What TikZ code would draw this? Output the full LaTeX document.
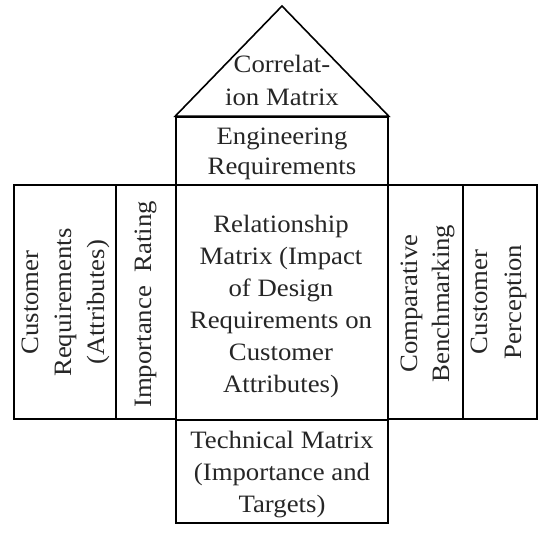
\documentclass[tikz,border=0pt]{standalone}
\usepackage{fontspec}
\setmainfont{Liberation Serif}[FakeStretch=1.07]
\usetikzlibrary{positioning}
\tikzset{box/.style={draw,line width=1.6pt,inner sep=0pt},
  lbl/.style={inner sep=0pt,align=center,text=black!85,font=\fontsize{25}{32}\selectfont}}
\newcommand*{\lsp}[1]{\fontsize{25}{#1}\selectfont}

\begin{document}
\begin{tikzpicture}[x=1pt,y=-1pt]
\useasboundingbox (0,0) rectangle (550,539);
% the house
\node[box,minimum width=212pt,minimum height=68pt] (eng) at (282,151) {};
\node[box,minimum width=212pt,minimum height=235pt] (rel) at (282,302.5) {};
\node[box,minimum width=212pt,minimum height=103pt] (tech) at (282,471.5) {};
\node[box,minimum width=102pt,minimum height=234pt] (cust) at (65,302) {};
\node[box,minimum width=60pt,minimum height=234pt] (imp) at (146,302) {};
\node[box,minimum width=75pt,minimum height=234pt] (comp) at (425.5,302) {};
\node[box,minimum width=74pt,minimum height=234pt] (perc) at (500,302) {};
\coordinate (apex) at (282,6);
\draw[line width=1.6pt,line join=miter] (eng.north west) -- (apex) -- (eng.north east) -- cycle;
% texts
\node[lbl,font=\lsp{33}] (corrt) at (282,80) {Correlat-\\ion Matrix};
\node[lbl,font=\lsp{30}] (engt) at (282,154) {Engineering\\Requirements};
\node[lbl] (relt) at (281,306)
  {Relationship\\Matrix (Impact\\of Design\\Requirements on\\Customer\\Attributes)};
\node[lbl] (techt) at (282,474.5) {Technical Matrix\\(Importance and\\Targets)};
\node[lbl,font=\lsp{33},rotate=90] (custt) at (66,302.5) {Customer\\Requirements\\(Attributes)};
\node[lbl,rotate=90] (impt) at (146,304.5) {Importance\ \ Rating};
\node[lbl,rotate=90] (compt) at (428,303.5) {Comparative\\Benchmarking};
\node[lbl,font=\lsp{34},rotate=90] (perct) at (499,302) {Customer\\Perception};
\end{tikzpicture}
\end{document}
